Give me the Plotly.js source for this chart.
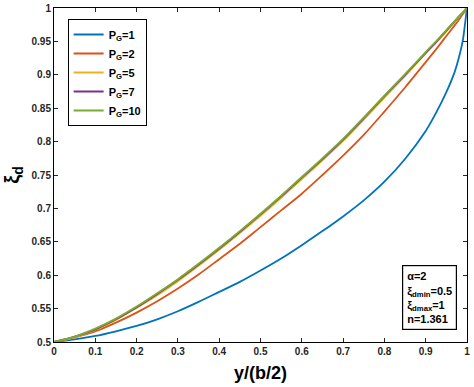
<!DOCTYPE html>
<html>
<head>
<meta charset="utf-8">
<script src="https://cdn.plot.ly/plotly-3.0.1.min.js"></script>
<style>html,body{margin:0;padding:0;background:#fff;}#plot{width:474px;height:387px;}</style>
</head>
<body>
<div id="plot"></div>
<script>
const yPos = [0, 0.05, 0.1, 0.15, 0.2, 0.25, 0.3, 0.35, 0.4, 0.45, 0.5, 0.55, 0.6, 0.65, 0.7, 0.75, 0.8, 0.85, 0.9, 0.925, 0.95, 0.97, 0.98, 0.99, 0.995, 1];
const xiPG1  = [0.5, 0.504, 0.509, 0.516, 0.524, 0.534, 0.546, 0.560, 0.575, 0.590, 0.607, 0.625, 0.645, 0.666, 0.688, 0.712, 0.740, 0.774, 0.816, 0.843, 0.874, 0.904, 0.925, 0.952, 0.975, 1.0];
const xiPG2  = [0.5, 0.507, 0.516, 0.529, 0.544, 0.561, 0.580, 0.601, 0.624, 0.647, 0.672, 0.697, 0.722, 0.750, 0.779, 0.810, 0.845, 0.881, 0.919, 0.938, 0.958, 0.974, 0.982, 0.991, 0.995, 1.0];
const xiPG5  = [0.5, 0.507, 0.518, 0.533, 0.551, 0.570, 0.591, 0.614, 0.638, 0.663, 0.689, 0.716, 0.744, 0.772, 0.801, 0.833, 0.866, 0.898, 0.932, 0.948, 0.965, 0.979, 0.986, 0.993, 0.996, 1.0];
const xiPG7  = [0.5, 0.508, 0.519, 0.534, 0.552, 0.572, 0.593, 0.616, 0.640, 0.665, 0.691, 0.718, 0.746, 0.774, 0.803, 0.835, 0.868, 0.900, 0.933, 0.949, 0.966, 0.980, 0.987, 0.993, 0.997, 1.0];
const xiPG10 = [0.5, 0.508, 0.520, 0.535, 0.553, 0.573, 0.594, 0.617, 0.641, 0.666, 0.692, 0.719, 0.747, 0.775, 0.804, 0.836, 0.869, 0.901, 0.934, 0.950, 0.967, 0.980, 0.987, 0.993, 0.997, 1.0];
const seriesNames = ['P<sub>G</sub>=1', 'P<sub>G</sub>=2', 'P<sub>G</sub>=5', 'P<sub>G</sub>=7', 'P<sub>G</sub>=10'];
const colors = ['#0072BD', '#D95319', '#EDB120', '#7E2F8E', '#77AC30'];
const xTicks = [0, 0.1, 0.2, 0.3, 0.4, 0.5, 0.6, 0.7, 0.8, 0.9, 1];
const xTickText = ['0', '0.1', '0.2', '0.3', '0.4', '0.5', '0.6', '0.7', '0.8', '0.9', '1'];
const yTicks = [0.5, 0.55, 0.6, 0.65, 0.7, 0.75, 0.8, 0.85, 0.9, 0.95, 1];
const yTickText = ['0.5', '0.55', '0.6', '0.65', '0.7', '0.75', '0.8', '0.85', '0.9', '0.95', '1'];
const boxText = 'α=2<br>ξ<sub>dmin</sub>=0.5<br>ξ<sub>dmax</sub>=1<br>n=1.361';

const allY = [xiPG1, xiPG2, xiPG5, xiPG7, xiPG10];
const traces = allY.map((ys, i) => ({
  x: yPos, y: ys, type: 'scatter', mode: 'lines', name: seriesNames[i],
  line: {color: colors[i], width: 1.8, shape: 'spline', smoothing: 0.8}
}));

const fam = 'Liberation Sans, Arial, sans-serif';
const axisCommon = {
  showgrid: false, zeroline: false, showline: true, linecolor: '#000', linewidth: 1,
  mirror: 'ticks', ticks: 'inside', ticklen: 4, tickcolor: '#262626',
  tickfont: {family: fam, size: 10, color: '#262626', weight: 'bold'}
};
const layout = {
  width: 474, height: 387,
  margin: {l: 54, r: 7, t: 8, b: 45},
  paper_bgcolor: '#fff', plot_bgcolor: '#fff',
  font: {family: fam, color: '#000'},
  showlegend: true,
  xaxis: Object.assign({}, axisCommon, {
    range: [0, 1], tickmode: 'array', tickvals: xTicks, ticktext: xTickText,
    title: {text: 'y/(b/2)', font: {family: fam, size: 18, weight: 'bold', color: '#000'}, standoff: 10}
  }),
  yaxis: Object.assign({}, axisCommon, {
    range: [0.5, 1], tickmode: 'array', tickvals: yTicks, ticktext: yTickText,
    title: {text: 'ξ<sub>d</sub>', font: {family: fam, size: 20, weight: 'bold', color: '#000'}, standoff: 6}
  }),
  legend: {
    x: 0.033, y: 0.967, xanchor: 'left', yanchor: 'top',
    bgcolor: '#fff', bordercolor: '#000', borderwidth: 1,
    font: {family: fam, size: 11, weight: 'bold', color: '#000'},
    itemwidth: 30, tracegroupgap: 0
  },
  annotations: [{
    xref: 'paper', yref: 'paper', x: 0.976, y: 0.035, xanchor: 'right', yanchor: 'bottom',
    text: boxText, showarrow: false, align: 'left',
    bordercolor: '#000', borderwidth: 1.2, borderpad: 4, bgcolor: '#fff',
    font: {family: fam, size: 11, weight: 'bold', color: '#000'}
  }]
};
Plotly.newPlot('plot', traces, layout, {displayModeBar: false, staticPlot: true});
</script>
</body>
</html>
